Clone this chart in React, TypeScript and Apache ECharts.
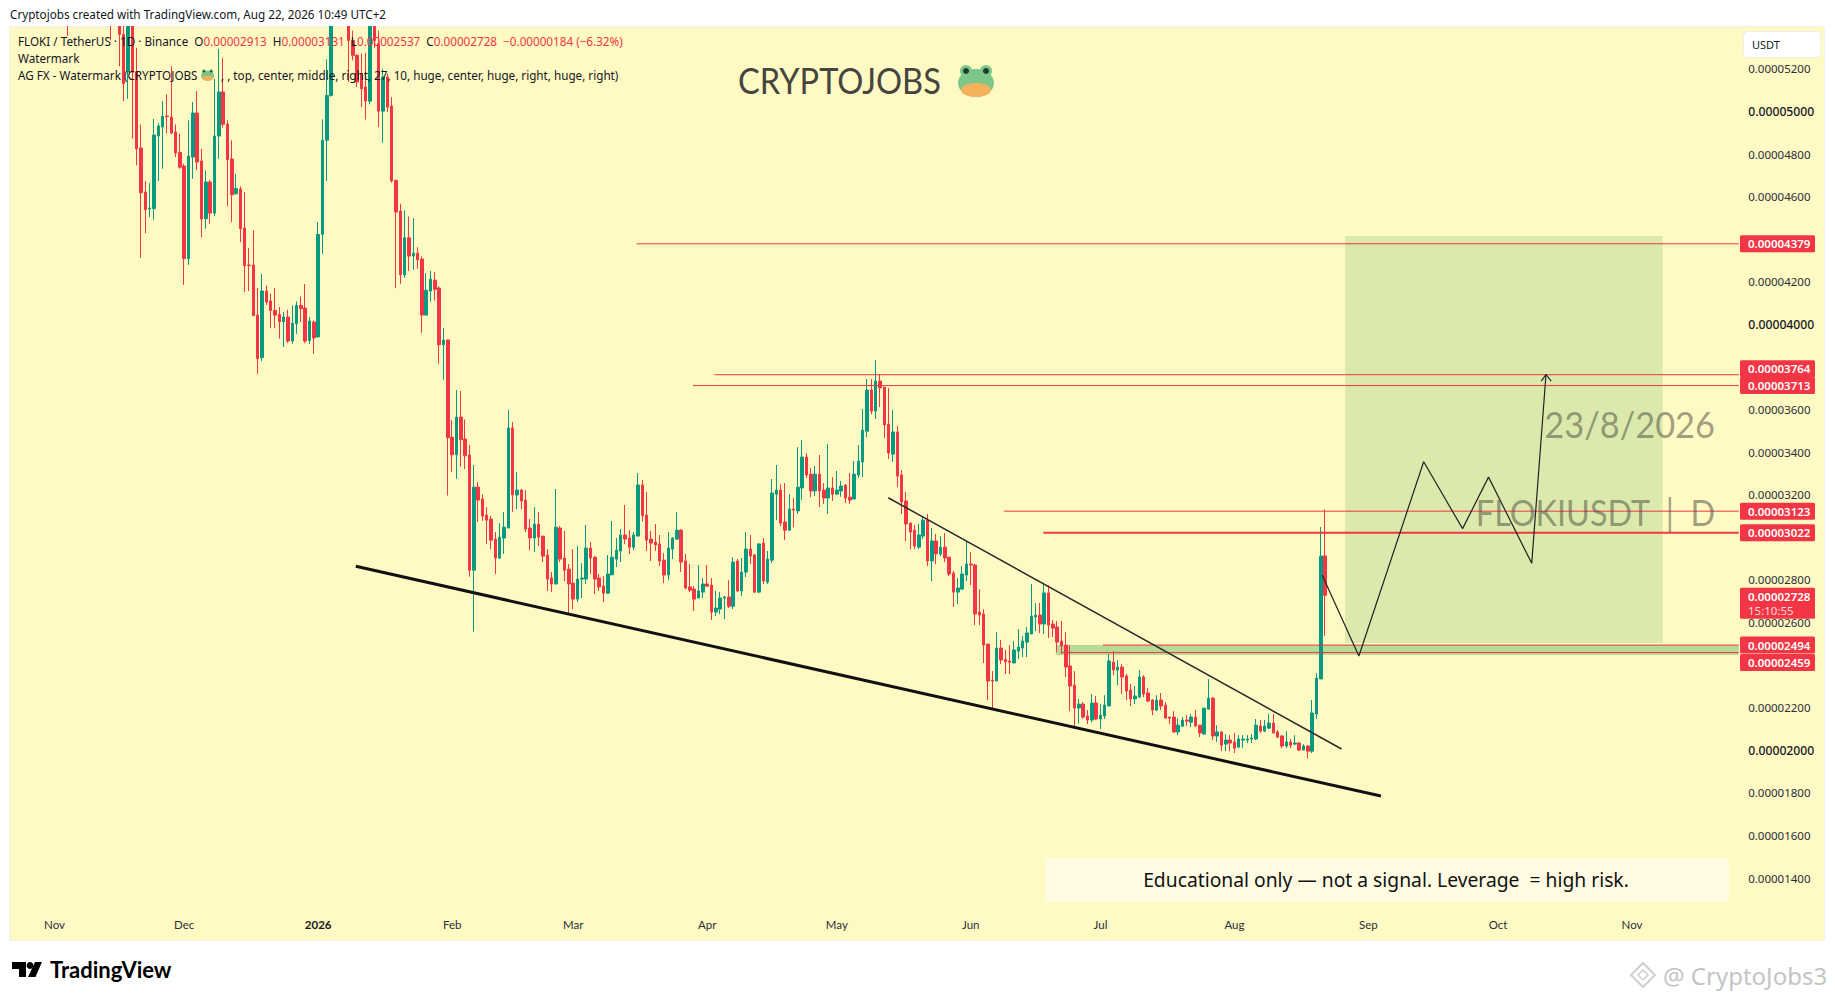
import React, { useEffect, useRef } from "react";
import * as echarts from "echarts";

// Prices are in units of 0.00000001 USDT.
const opens = [
  5900,5840,5870,5800,5860,5780,5820,5760,5790,5720,5760,5700,5740,5740,5720,5650,5690,5630,5660,5600,5640,5580,5610,5560,5520,
  5480,5363,5186,5450,5186,
  4829,4622,4542,4544,4885,4927,4979,4974,4904,4808,
  4744,4309,4786,4993,4768,4497,4669,4523,4885,5092,
  4941,4777,4614,4636,4453,4279,4279,4044,3844,4157,
  4110,4066,4047,4013,4035,3922,4003,4089,4077,3925,
  4011,3941,4423,4865,5076,5450,5650,5750,5450,5334,
  5264,5178,5115,5049,5420,5319,5002,5162,5026,4677,
  4533,4233,4407,4321,4335,4307,4044,4157,4208,4171,
  3905,3927,3470,3388,3565,3462,3387,2846,3236,3180,
  3105,3086,2992,2903,2997,3044,3514,3199,3222,3175,
  3044,2997,3062,3006,2917,2809,2781,3044,2903,2851,
  2785,2710,2804,2804,2950,2907,2809,2771,2738,2824,
  2898,2936,3011,2997,2954,3006,3246,3105,2992,2978,
  2969,2893,2823,2945,2992,3034,2889,2767,2757,2715,
  2743,2781,2776,2649,2663,2715,2720,2677,2889,2748,
  2837,2945,2917,2743,2973,2790,2893,3203,3222,3072,
  3034,3133,3124,3232,3377,3297,3218,3297,3222,3185,
  3232,3203,3218,3246,3189,3180,3293,3354,3499,3692,
  3593,3734,3706,3532,3391,3495,3293,3171,3067,3034,
  2954,3006,3081,2889,2983,2922,2954,2907,2832,2743,
  2757,2823,2875,2870,2649,2640,2499,2330,2325,2480,
  2427,2419,2410,2466,2480,2508,2546,2626,2635,2593,
  2739,2593,2579,2513,2494,2396,2306,2198,2217,2161,
  2142,2222,2147,2161,2208,2414,2377,2391,2349,2283,
  2241,2250,2344,2269,2236,2189,2236,2212,2156,2156,
  2086,2113,2142,2132,2156,2118,2076,2193,2245,2067,
  2086,2029,2048,2039,2015,2048,2048,2053,2053,2114,
  2090,2104,2128,2086,2067,2020,2039,2029,2034,2001,
  2020,1996,2170,2335,2913,
];
const closes = [
  5840,5870,5800,5860,5780,5820,5760,5790,5720,5760,5700,5740,5680,5680,5650,5690,5630,5660,5600,5640,5580,5610,5560,5520,5480,
  5363,5131,5450,5186,4825,
  4619,4539,4547,4890,4932,4977,4976,4899,4805,4739,
  4309,4791,4993,4763,4495,4669,4523,4885,5092,4940,
  4774,4609,4639,4450,4276,4276,4041,3839,4157,4105,
  4066,4044,4013,4035,3922,4006,4089,4074,3922,4016,
  3937,4423,4865,5076,5450,5650,5700,5600,5334,5264,
  5139,5107,5049,5420,5334,5002,5162,5021,4674,4528,
  4233,4407,4321,4335,4304,4044,4161,4213,4165,3905,
  3927,3468,3388,3565,3459,3383,2846,3236,3175,3100,
  3081,2987,2903,3001,3048,3514,3199,3222,3171,3039,
  2997,3062,3001,2912,2804,2781,3048,2898,2846,2781,
  2710,2804,2809,2950,2903,2804,2767,2738,2828,2907,
  2940,3011,2992,2954,3011,3246,3102,2987,2973,2964,
  2889,2823,2950,2997,3034,2884,2762,2752,2710,2748,
  2781,2771,2649,2668,2715,2720,2677,2884,2748,2837,
  2945,2912,2743,2969,2795,2898,3208,3222,3067,3034,
  3133,3128,3236,3377,3293,3218,3297,3218,3185,3232,
  3203,3222,3241,3185,3175,3297,3359,3504,3692,3593,
  3734,3702,3528,3396,3495,3288,3166,3063,3025,2959,
  3011,3081,2889,2983,2922,2954,2903,2828,2743,2762,
  2828,2875,2870,2640,2635,2494,2325,2325,2480,2424,
  2416,2414,2471,2485,2513,2551,2630,2635,2593,2739,
  2588,2574,2508,2490,2391,2302,2198,2217,2156,2142,
  2222,2147,2165,2212,2419,2377,2391,2344,2278,2241,
  2255,2344,2264,2231,2189,2236,2208,2151,2151,2086,
  2118,2142,2137,2156,2114,2081,2198,2245,2067,2086,
  2024,2048,2034,2010,2053,2053,2053,2057,2118,2090,
  2114,2128,2081,2062,2020,2039,2024,2034,2001,2020,
  1996,2175,2339,2912,2728,
];
const lows = [
  5790,5800,5750,5770,5740,5750,5720,5730,5680,5690,5660,5670,5640,5355,5610,5620,5590,5600,5560,5570,5540,5550,5520,5334,5440,
  5212,5049,5060,4872,4747,
  4313,4429,4504,4492,4674,4731,4899,4893,4786,4731,
  4186,4280,4684,4724,4410,4450,4473,4509,4778,4924,
  4556,4481,4609,4387,4152,4157,4041,3768,3828,4092,
  3983,3983,3933,3894,3913,3909,3956,4011,3912,3909,
  3862,3941,4332,4674,5070,5420,5600,5500,5139,5240,
  5115,5021,4962,5034,5300,4927,4854,4998,4666,4171,
  4191,4219,4251,4257,4262,3961,4042,4107,4113,3815,
  3740,3196,3308,3275,3332,3321,2815,2557,3073,3078,
  2968,2945,2828,2898,2922,3044,3119,3133,3133,3025,
  2940,2931,2959,2884,2748,2743,2781,2884,2795,2635,
  2663,2696,2715,2781,2828,2734,2748,2696,2734,2823,
  2860,2884,2968,2922,2940,3006,3074,2936,2889,2936,
  2865,2785,2799,2898,2987,2837,2757,2743,2654,2715,
  2715,2767,2612,2630,2640,2616,2668,2663,2743,2724,
  2814,2875,2738,2738,2781,2781,2879,3081,3053,2987,
  3030,3048,3110,3175,3279,3189,3194,3142,3157,3110,
  3171,3203,3191,3161,3157,3180,3279,3283,3471,3579,
  3556,3612,3467,3368,3354,3236,3110,2983,2945,2945,
  2945,2992,2865,2795,2875,2912,2884,2818,2673,2687,
  2752,2795,2776,2588,2588,2410,2236,2198,2325,2405,
  2358,2358,2410,2428,2438,2438,2546,2560,2551,2546,
  2527,2532,2461,2452,2344,2184,2104,2126,2147,2123,
  2132,2142,2100,2147,2208,2353,2306,2264,2236,2208,
  2217,2245,2250,2226,2165,2184,2189,2151,2123,2081,
  2071,2109,2114,2109,2109,2062,2076,2193,2048,2039,
  1996,1996,1996,1987,2010,2010,2034,2034,2048,2081,
  2085,2100,2081,2057,2010,2010,2010,2024,1996,2001,
  1963,1987,2147,2335,2537,
];
const highs = [
  5950,5920,5910,5890,5900,5860,5860,5820,5830,5790,5800,5770,5780,5750,5760,5720,5730,5690,5700,5670,5680,5640,5650,5600,5560,
  5500,5420,5500,5500,5300,
  4940,4674,4664,4965,4945,5049,5081,5212,4940,4896,
  4755,4959,5045,5096,4825,4724,4680,5154,5294,5251,
  4959,4865,4708,4648,4622,4360,4442,4171,4237,4183,
  4144,4171,4082,4058,4069,4089,4108,4132,4190,4035,
  4019,4481,4963,5245,5520,5750,5850,5800,5500,5380,
  5269,5272,5275,5480,5500,5380,5201,5178,5068,4680,
  4567,4536,4507,4500,4363,4320,4241,4251,4246,4179,
  3983,3930,3551,3692,3687,3554,3434,3340,3260,3202,
  3142,3100,3025,3067,3119,3598,3542,3307,3227,3222,
  3086,3142,3119,3006,2945,2837,3227,3053,3030,2875,
  2945,2959,2879,3058,2978,2912,2828,2818,2917,3077,
  2997,3039,3152,3034,3025,3302,3269,3213,3030,3063,
  3011,2926,3025,3001,3119,3039,2922,2875,2771,2870,
  2809,2870,2809,2748,2743,2724,2799,2907,2898,2903,
  3025,3011,2922,2973,2997,2936,3274,3340,3250,3255,
  3203,3185,3424,3457,3396,3326,3335,3387,3255,3438,
  3283,3312,3265,3250,3302,3359,3434,3603,3744,3744,
  3833,3767,3706,3702,3598,3523,3316,3213,3067,3058,
  3063,3100,3110,3044,3016,3006,3020,2907,2842,2809,
  2865,2983,2931,2875,2757,2663,2499,2372,2555,2518,
  2471,2494,2513,2569,2537,2579,2781,2692,2692,2786,
  2776,2612,2607,2607,2555,2494,2372,2241,2226,2189,
  2264,2255,2217,2259,2452,2466,2424,2405,2358,2311,
  2302,2377,2353,2292,2241,2259,2269,2226,2156,2184,
  2151,2156,2165,2170,2189,2118,2198,2334,2250,2118,
  2090,2076,2071,2081,2071,2071,2071,2076,2147,2142,
  2142,2170,2170,2095,2071,2090,2053,2071,2039,2029,
  2024,2236,2363,3049,3131,
];

const DAY_COUNT = 401;
const monthDays = [10, 40, 71, 102, 130, 161, 191, 222, 252, 283, 314, 344, 375];
const monthNames = ["Nov", "Dec", "2026", "Feb", "Mar", "Apr", "May", "Jun", "Jul", "Aug", "Sep", "Oct", "Nov"];
const boldPriceTicks = [5000, 4000, 2000];
const hiddenPriceTicks = [5400, 4400, 3800, 3000, 2400, 1200];

// Horizontal rays: price level and starting day index.
const rayPrices = [4379, 3764, 3713, 3123, 3022, 2494, 2459];
const rayStarts = [144.7, 162.7, 157.7, 229.7, 238.8, 252.6, 242.9];
const RAY_END = 399.7;

// Shaded zones.
const zoneStarts = [308.6, 241.7];
const zoneEnds = [382.1, 399.7];
const zoneTops = [4415, 2494];
const zoneBottoms = [2504, 2447];

// Drawn trend lines and projected path.
const supportDays = [79.7, 316.9];
const supportPrices = [2864, 1785];
const resistanceDays = [202.9, 307.8];
const resistancePrices = [3186, 2006];
const pathDays = [303.3, 311.8, 326.8, 335.8, 341.8, 351.8, 355.1];
const pathPrices = [2823, 2443, 3355, 3041, 3283, 2878, 3765];
const arrowDays = [354.0, 355.1, 356.3];
const arrowPrices = [3734, 3765, 3734];

// Price tags in the scale.
const tagPrices = [4379, 3764, 3713, 3123, 3022, 2728, 2494, 2459];
const COUNTDOWN = "15:10:55";

const RED = "#F23645";
const GREEN = "#089981";
const BG = "#FFF9C4";
const INK = "#131722";
const UI_FONT = "Lato";
const SCALE_FONT = "'Noto Sans'";

const fmtPrice = (v: number) => (v / 1e8).toFixed(8);

const tagShift: Record<number, number> = { 3764: -6, 2459: 10, 2728: 8 };

function linePair(name: string, days: number[], prices: number[], width: number, color: string) {
  return {
    name,
    type: "line",
    xAxisIndex: 1,
    yAxisIndex: 0,
    data: days.map((d, i) => [d, prices[i]]),
    showSymbol: false,
    silent: true,
    z: 4,
    lineStyle: { width, color },
    itemStyle: { color },
  };
}

function frog(cx: number, cy: number, k: number) {
  return {
    type: "group",
    x: cx,
    y: cy,
    scaleX: k,
    scaleY: k,
    z: 100,
    children: [
      { type: "ellipse", z: 100, shape: { cx: 0, cy: 2, rx: 18, ry: 14 }, style: { fill: "#7CC68A" } },
      { type: "circle", z: 100, shape: { cx: -10, cy: -10, r: 6 }, style: { fill: "#7CC68A" } },
      { type: "circle", z: 100, shape: { cx: 10, cy: -10, r: 6 }, style: { fill: "#7CC68A" } },
      { type: "circle", z: 101, shape: { cx: -10, cy: -10, r: 3 }, style: { fill: "#1F3B2C" } },
      { type: "circle", z: 101, shape: { cx: 10, cy: -10, r: 3 }, style: { fill: "#1F3B2C" } },
      { type: "ellipse", z: 101, shape: { cx: 0, cy: 9, rx: 15, ry: 7 }, style: { fill: "#F6B25A" } },
    ],
  };
}

function label(text: string, x: number, y: number, font: string, fill: string, align = "left") {
  return { type: "text", z: 100, style: { x, y, text, font, fill, align, verticalAlign: "middle" } };
}

function squeezed(text: string, x: number, y: number, font: string, fill: string, k: number, align = "left") {
  return { type: "text", z: 100, x, y, scaleX: k, style: { x: 0, y: 0, text, font, fill, align, verticalAlign: "middle" } };
}

export default function App() {
  const ref = useRef<HTMLDivElement>(null);

  useEffect(() => {
    const chart = echarts.init(ref.current!, undefined, { renderer: "svg" });
    const start = Date.UTC(2025, 9, 22);
    const categories = Array.from({ length: DAY_COUNT }, (_, i) =>
      new Date(start + i * 86400000).toISOString().slice(0, 10)
    );
    const candles = opens.map((o, i) => [o, closes[i], lows[i], highs[i]]);

    const legendFont = `11.7px ${SCALE_FONT}`;
    const graphicEls: any[] = [
      { type: "rect", z: -10, shape: { x: 0, y: 0, width: 1835, height: 1000 }, style: { fill: "#FFFFFF" } },
      { type: "rect", z: -9, shape: { x: 9.5, y: 26.5, width: 1815, height: 914 }, style: { fill: BG, stroke: "#F0F0EE", lineWidth: 1 } },
      { type: "rect", z: 30, shape: { x: 0, y: 0, width: 1835, height: 26 }, style: { fill: "#FFFFFF" } },
      label("Cryptojobs created with TradingView.com, Aug 22, 2026 10:49 UTC+2", 10, 14, legendFont, INK),
      {
        type: "text",
        z: 100,
        style: {
          x: 18,
          y: 41,
          verticalAlign: "middle",
          text: "{d|FLOKI / TetherUS · 1D · Binance  O}{r|0.00002913}{d|  H}{r|0.00003131}{d|  L}{r|0.00002537}{d|  C}{r|0.00002728}{r|  −0.00000184 (−6.32%)}",
          rich: {
            d: { fill: INK, font: legendFont },
            r: { fill: RED, font: legendFont },
          },
        },
      },
      label("Watermark", 18, 58, legendFont, INK),
      label("AG FX - Watermark (CRYPTOJOBS", 18, 75, legendFont, INK),
      frog(207.6, 75, 0.36),
      label(", , top, center, middle, right, 27, 10, huge, center, huge, right, huge, right)", 221, 75, legendFont, INK),
      squeezed("CRYPTOJOBS", 738, 80, `36px ${UI_FONT}`, "#45453F", 0.905),
      frog(976, 81, 1),
      squeezed("23/8/2026", 1715, 424, `37px ${UI_FONT}`, "rgba(70,70,60,0.5)", 0.93, "right"),
      squeezed("FLOKIUSDT  |  D", 1715, 512, `37px ${UI_FONT}`, "rgba(70,70,60,0.5)", 0.875, "right"),
      { type: "rect", z: 50, shape: { x: 1045, y: 858, width: 684, height: 44 }, style: { fill: "#FFFBE3" } },
      label("Educational only — not a signal. Leverage  = high risk.", 1386, 879, `19.3px ${SCALE_FONT}`, "#111111", "center"),
      { type: "rect", z: 60, shape: { x: 1743.5, y: 31.5, width: 77, height: 26, r: 4 }, style: { fill: "#FFFFFF", stroke: "#EEEEEE", lineWidth: 1 } },
      label("USDT", 1752, 44, `11px ${SCALE_FONT}`, INK),
      { type: "polygon", z: 100, shape: { points: [[12, 962], [26, 962], [26, 977], [19, 977], [19, 969], [12, 969]] }, style: { fill: "#000000" } },
      { type: "circle", z: 100, shape: { cx: 30, cy: 965.5, r: 3.4 }, style: { fill: "#000000" } },
      { type: "polygon", z: 100, shape: { points: [[35, 962], [42, 962], [35.5, 977], [28, 977]] }, style: { fill: "#000000" } },
      label("TradingView", 50, 969, `700 22px ${UI_FONT}`, "#000000"),
      { type: "polygon", z: 100, shape: { points: [[1643, 963], [1655, 975], [1643, 987], [1631, 975]] }, style: { fill: "none", stroke: "#CFCFCF", lineWidth: 2 } },
      { type: "polygon", z: 100, shape: { points: [[1643, 970], [1648, 975], [1643, 980], [1638, 975]] }, style: { fill: "none", stroke: "#CFCFCF", lineWidth: 1.5 } },
      label("@ CryptoJobs3", 1663, 975, `24px ${SCALE_FONT}`, "#C4C4C4"),
    ];

    const option: any = {
      animation: false,
      backgroundColor: "transparent",
      grid: { left: 9.2, top: 26.4, width: 1733, height: 894.2, containLabel: false },
      xAxis: [
        {
          type: "category",
          data: categories,
          boundaryGap: true,
          axisLine: { show: false },
          axisTick: { show: false },
          splitLine: { show: false },
          axisLabel: {
            margin: -2,
            hideOverlap: false,
            interval: (i: number) => monthDays.includes(i),
            formatter: (_v: string, i: number) => {
              const k = monthDays.indexOf(i);
              const t = k >= 0 ? monthNames[k] : "";
              return t === "2026" ? `{y|${t}}` : t;
            },
            color: "#2A2E39",
            fontFamily: UI_FONT,
            fontSize: 11.5,
            rich: { y: { fontFamily: UI_FONT, fontSize: 11.5, fontWeight: 700, color: INK } },
          },
        },
        { type: "value", show: false, min: -0.5, max: DAY_COUNT - 0.5 },
      ],
      yAxis: {
        type: "value",
        position: "right",
        min: 1200,
        max: 5400,
        interval: 200,
        scale: true,
        axisLine: { show: false },
        axisTick: { show: false },
        splitLine: { show: false },
        axisLabel: {
          margin: 6,
          align: "left",
          color: "#2A2E39",
          fontFamily: SCALE_FONT,
          fontSize: 11.5,
          formatter: (v: number) => {
            if (hiddenPriceTicks.includes(v)) return "";
            return boldPriceTicks.includes(v) ? `{b|${fmtPrice(v)}}` : fmtPrice(v);
          },
          rich: { b: { fontFamily: SCALE_FONT, fontSize: 12.2, fontWeight: 500, color: INK } },
        },
      },
      graphic: { elements: graphicEls },
      series: [
        {
          name: "Zones",
          type: "custom",
          xAxisIndex: 1,
          yAxisIndex: 0,
          z: 1,
          silent: true,
          data: zoneStarts.map((s, i) => [s, zoneTops[i], zoneEnds[i], zoneBottoms[i]]),
          encode: { x: [0, 2], y: [1, 3] },
          renderItem: (_p: any, api: any) => {
            const a = api.coord([api.value(0), api.value(1)]);
            const b = api.coord([api.value(2), api.value(3)]);
            const strong = api.value(2) - api.value(0) > 100;
            return {
              type: "rect",
              shape: { x: a[0], y: a[1], width: b[0] - a[0], height: b[1] - a[1] },
              style: { fill: strong ? "rgba(76,175,80,0.4)" : "rgba(76,175,80,0.2)" },
            };
          },
        },
        {
          name: "FLOKIUSDT",
          type: "candlestick",
          xAxisIndex: 0,
          yAxisIndex: 0,
          z: 3,
          silent: true,
          clip: true,
          barWidth: 3,
          data: candles,
          itemStyle: { color: GREEN, color0: RED, borderColor: GREEN, borderColor0: RED, borderWidth: 1 },
        },
        ...rayPrices.map((p, i) =>
          linePair(`Ray ${p}`, [rayStarts[i], RAY_END], [p, p], p === 3022 ? 2 : 1, RED)
        ),
        linePair("Support", supportDays, supportPrices, 3, "#111111"),
        linePair("Resistance", resistanceDays, resistancePrices, 1.5, "#2B2B2B"),
        linePair("Path", pathDays, pathPrices, 1.2, "#222222"),
        linePair("Arrow", arrowDays, arrowPrices, 1.2, "#222222"),
        {
          name: "Tags",
          type: "custom",
          xAxisIndex: 1,
          yAxisIndex: 0,
          z: 20,
          silent: true,
          clip: false,
          data: tagPrices.map((p) => [0, p]),
          encode: { x: 0, y: 1 },
          renderItem: (_p: any, api: any) => {
            const price = api.value(1);
            const y = api.coord([0, price])[1] + (tagShift[price] || 0);
            const isLast = price === 2728;
            const h = isLast ? 31 : 17;
            const top = y - h / 2;
            const children: any[] = [
              { type: "rect", shape: { x: 1740, y: top, width: 75, height: h, r: 1.5 }, style: { fill: RED } },
              {
                type: "text",
                style: {
                  x: 1748,
                  y: isLast ? top + 9 : y,
                  text: fmtPrice(price),
                  fill: "#FFFFFF",
                  font: `600 11.5px ${SCALE_FONT}`,
                  verticalAlign: "middle",
                },
              },
            ];
            if (isLast) {
              children.push({
                type: "text",
                style: { x: 1748, y: top + 22.5, text: COUNTDOWN, fill: "#FFD6DA", font: `11.5px ${SCALE_FONT}`, verticalAlign: "middle" },
              });
            }
            return { type: "group", children };
          },
        },
      ],
    };
    chart.setOption(option);
    return () => chart.dispose();
  }, []);

  return <div ref={ref} style={{ position: "absolute", left: 0, top: 0, width: 1835, height: 1000 }} />;
}
